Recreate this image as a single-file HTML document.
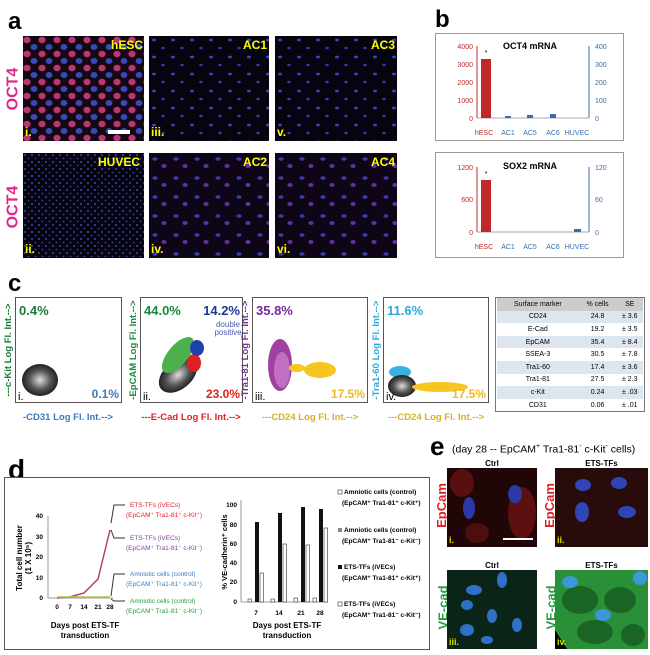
<!DOCTYPE html>
<html><head><meta charset="utf-8"><style>
body{margin:0;width:650px;height:655px;background:#fff;position:relative;overflow:hidden;font-family:"Liberation Sans",sans-serif}
.a{position:absolute}
.L{font-weight:bold;font-size:24px;line-height:24px}
.lab{position:absolute;color:#ff0;font-weight:bold;font-size:12px}
.rot{position:absolute;transform:rotate(-90deg);transform-origin:center;white-space:nowrap;font-weight:bold}
table{border-collapse:collapse;font-size:7px;width:100%}
td,th{text-align:center;height:12.6px;padding:0;font-weight:normal}
tr:nth-child(even) td{background:#dde5ef}
</style></head><body>
<svg width="0" height="0" style="position:absolute"><defs>
<pattern id="pB" width="19" height="17" patternUnits="userSpaceOnUse"><ellipse cx="5" cy="4" rx="2" ry="1.4" fill="#3a44b8"/><ellipse cx="14" cy="12" rx="1.8" ry="1.3" fill="#323ca8"/></pattern>
<pattern id="pH" width="7" height="7" patternUnits="userSpaceOnUse"><circle cx="2" cy="2" r="1" fill="#4048b8"/><circle cx="5.5" cy="5.5" r="0.9" fill="#3840a8"/></pattern>
<pattern id="pE" width="15" height="14" patternUnits="userSpaceOnUse"><ellipse cx="4" cy="4" rx="3.6" ry="3.2" fill="#c03570"/><ellipse cx="11" cy="11" rx="3.4" ry="3" fill="#3a48b8"/></pattern>
<pattern id="pV" width="21" height="19" patternUnits="userSpaceOnUse"><ellipse cx="6" cy="6" rx="2.6" ry="1.8" fill="#3a3cb0"/><ellipse cx="15" cy="13" rx="2.6" ry="2" fill="#6030a0"/></pattern>
</defs></svg>
<div class="a L" style="left:8px;top:10px">a</div>
<div class="rot" style="left:-8px;top:80px;color:#e0288a;font-size:16px">OCT4</div>
<div class="rot" style="left:-8px;top:198px;color:#e0288a;font-size:16px">OCT4</div>
<svg class="a" style="left:23px;top:36px" width="121" height="105"><rect width="121" height="105" fill="#140814"/><rect width="121" height="105" fill="url(#pE)"/><rect x="85" y="94" width="22" height="4" fill="#fff"/></svg>
<svg class="a" style="left:149px;top:36px" width="120" height="105"><rect width="120" height="105" fill="#05040f"/><rect width="120" height="105" fill="url(#pB)"/></svg>
<svg class="a" style="left:275px;top:36px" width="122" height="105"><rect width="122" height="105" fill="#05040f"/><rect width="122" height="105" fill="url(#pB)"/></svg>
<svg class="a" style="left:23px;top:153px" width="121" height="105"><rect width="121" height="105" fill="#05040f"/><rect width="121" height="105" fill="url(#pH)"/></svg>
<svg class="a" style="left:149px;top:153px" width="120" height="105"><rect width="120" height="105" fill="#0e0616"/><rect width="120" height="105" fill="url(#pV)"/></svg>
<svg class="a" style="left:275px;top:153px" width="122" height="105"><rect width="122" height="105" fill="#0e0616"/><rect width="122" height="105" fill="url(#pV)"/></svg>
<div class="lab" style="left:111px;top:38px">hESC</div><div class="lab" style="left:25px;top:125px">i.</div>
<div class="lab" style="left:243px;top:38px">AC1</div><div class="lab" style="left:151px;top:125px">iii.</div>
<div class="lab" style="left:371px;top:38px">AC3</div><div class="lab" style="left:277px;top:125px">v.</div>
<div class="lab" style="left:98px;top:155px">HUVEC</div><div class="lab" style="left:25px;top:242px">ii.</div>
<div class="lab" style="left:243px;top:155px">AC2</div><div class="lab" style="left:151px;top:242px">iv.</div>
<div class="lab" style="left:371px;top:155px">AC4</div><div class="lab" style="left:277px;top:242px">vi.</div>

<div class="a L" style="left:435px;top:8px">b</div>
<svg class="a" style="left:435px;top:33px" width="190" height="226" font-family="Liberation Sans" font-size="7">
<rect x="0.5" y="0.5" width="188" height="107" fill="#fff" stroke="#999"/>
<text x="95" y="16" font-size="9" font-weight="bold" text-anchor="middle">OCT4 mRNA</text>
<line x1="42" y1="13" x2="42" y2="85" stroke="#c0282a"/><line x1="154" y1="13" x2="154" y2="85" stroke="#3a6db0"/>
<line x1="42" y1="85" x2="154" y2="85" stroke="#aaa"/>
<g fill="#c0282a" text-anchor="end"><text x="38" y="16">4000</text><text x="38" y="34">3000</text><text x="38" y="52">2000</text><text x="38" y="70">1000</text><text x="38" y="88">0</text></g>
<g fill="#3a6db0"><text x="160" y="16">400</text><text x="160" y="34">300</text><text x="160" y="52">200</text><text x="160" y="70">100</text><text x="160" y="88">0</text></g>
<rect x="46" y="26" width="10" height="59" fill="#c0282a"/><text x="51" y="22" text-anchor="middle">*</text>
<rect x="70" y="83" width="6" height="2" fill="#3a6db0"/><rect x="92" y="82" width="6" height="3" fill="#3a6db0"/><rect x="115" y="81" width="6" height="4" fill="#3a6db0"/>
<text x="49" y="102" fill="#c0282a" text-anchor="middle">hESC</text><g fill="#3a6db0" text-anchor="middle"><text x="73" y="102">AC1</text><text x="95" y="102">AC5</text><text x="118" y="102">AC6</text><text x="142" y="102">HUVEC</text></g>
<rect x="0.5" y="119.5" width="188" height="105" fill="#fff" stroke="#999"/>
<text x="95" y="136" font-size="9" font-weight="bold" text-anchor="middle">SOX2 mRNA</text>
<line x1="42" y1="134" x2="42" y2="199" stroke="#c0282a"/><line x1="154" y1="134" x2="154" y2="199" stroke="#3a6db0"/>
<line x1="42" y1="199" x2="154" y2="199" stroke="#aaa"/>
<g fill="#c0282a" text-anchor="end"><text x="38" y="137">1200</text><text x="38" y="169">600</text><text x="38" y="202">0</text></g>
<g fill="#3a6db0"><text x="160" y="137">120</text><text x="160" y="169">60</text><text x="160" y="202">0</text></g>
<rect x="46" y="147" width="10" height="52" fill="#c0282a"/><text x="51" y="143" text-anchor="middle">*</text>
<rect x="139" y="196" width="7" height="3" fill="#3a6db0"/>
<text x="49" y="216" fill="#c0282a" text-anchor="middle">hESC</text><g fill="#3a6db0" text-anchor="middle"><text x="73" y="216">AC1</text><text x="95" y="216">AC5</text><text x="118" y="216">AC6</text><text x="142" y="216">HUVEC</text></g>
</svg>

<div class="a L" style="left:8px;top:272px">c</div>
<svg class="a" style="left:0;top:290px" width="495" height="135" font-family="Liberation Sans" font-weight="bold">
<defs><radialGradient id="gg"><stop offset="0" stop-color="#ddd"/><stop offset="0.6" stop-color="#555"/><stop offset="1" stop-color="#222"/></radialGradient></defs>
<rect x="15.5" y="7.5" width="106" height="105" fill="#fff" stroke="#555"/>
<ellipse cx="40" cy="90" rx="18" ry="16" fill="url(#gg)"/>
<text x="19" y="25" fill="#1a7a3a" font-size="13">0.4%</text><text x="119" y="108" fill="#3a7ac0" font-size="12" text-anchor="end">0.1%</text><text x="18" y="110" font-size="11" font-weight="normal">i.</text>
<text x="68" y="130" fill="#3a7ac0" font-size="9.5" text-anchor="middle">-CD31 Log Fl. Int.--&gt;</text>
<text transform="translate(11,60) rotate(-90)" fill="#1a7a3a" font-size="9.5" text-anchor="middle">---c-Kit Log Fl. Int.--&gt;</text>
<rect x="140.5" y="7.5" width="102" height="105" fill="#fff" stroke="#555"/>
<ellipse cx="178" cy="85" rx="22" ry="14" fill="url(#gg)" transform="rotate(-40 178 85)"/>
<ellipse cx="178" cy="65" rx="22" ry="10" fill="#4cb04c" transform="rotate(-50 178 65)"/>
<ellipse cx="194" cy="73" rx="7" ry="9" fill="#e02020"/><ellipse cx="197" cy="58" rx="7" ry="8" fill="#2040b0"/>
<text x="144" y="25" fill="#1a8a3a" font-size="13">44.0%</text><text x="240" y="25" fill="#203890" font-size="13" text-anchor="end">14.2%</text>
<text x="228" y="37" fill="#4a5ab0" font-size="8" font-weight="normal" text-anchor="middle">double</text><text x="228" y="45" fill="#4a5ab0" font-size="8" font-weight="normal" text-anchor="middle">positive</text>
<text x="240" y="108" fill="#e02020" font-size="12" text-anchor="end">23.0%</text><text x="143" y="110" font-size="11" font-weight="normal">ii.</text>
<text x="191" y="130" fill="#e02020" font-size="9.5" text-anchor="middle">---E-Cad Log Fl. Int.--&gt;</text>
<text transform="translate(136,60) rotate(-90)" fill="#1a8a3a" font-size="9.5" text-anchor="middle">-EpCAM Log Fl. Int.--&gt;</text>
<rect x="252.5" y="7.5" width="115" height="105" fill="#fff" stroke="#555"/>
<ellipse cx="280" cy="75" rx="12" ry="26" fill="#a040a0"/><ellipse cx="282" cy="80" rx="8" ry="18" fill="#c070c0"/><ellipse cx="320" cy="80" rx="16" ry="8" fill="#f7c520"/><ellipse cx="297" cy="78" rx="8" ry="4" fill="#f7c520"/>
<text x="256" y="25" fill="#7a2a9a" font-size="13">35.8%</text><text x="365" y="108" fill="#f0b820" font-size="12" text-anchor="end">17.5%</text><text x="255" y="110" font-size="11" font-weight="normal">iii.</text>
<text x="310" y="130" fill="#d8b020" font-size="9.5" text-anchor="middle">---CD24 Log Fl. Int.--&gt;</text>
<text transform="translate(248,60) rotate(-90)" fill="#7a2a9a" font-size="9.5" text-anchor="middle">-Tra1-81 Log Fl. Int.--&gt;</text>
<rect x="383.5" y="7.5" width="105" height="105" fill="#fff" stroke="#555"/>
<ellipse cx="400" cy="82" rx="11" ry="6" fill="#3ab0e0"/><ellipse cx="402" cy="96" rx="14" ry="11" fill="url(#gg)"/><ellipse cx="440" cy="97" rx="28" ry="5" fill="#f7c520"/>
<text x="387" y="25" fill="#2aa8dc" font-size="13">11.6%</text><text x="486" y="108" fill="#f0b820" font-size="12" text-anchor="end">17.5%</text><text x="386" y="110" font-size="11" font-weight="normal">iv.</text>
<text x="436" y="130" fill="#d8b020" font-size="9.5" text-anchor="middle">---CD24 Log Fl. Int.--&gt;</text>
<text transform="translate(379,60) rotate(-90)" fill="#2aa8dc" font-size="9.5" text-anchor="middle">-Tra1-60 Log Fl. Int.--&gt;</text>
</svg>
<div class="a" style="left:495px;top:297px;width:146px;height:113px;border:1px solid #777;padding:0 1px">
<table><tr><th style="background:#ccc">Surface marker</th><th style="background:#ccc">% cells</th><th style="background:#ccc">SE</th></tr>
<tr><td>CD24</td><td>24.8</td><td>± 3.6</td></tr><tr><td>E-Cad</td><td>19.2</td><td>± 3.5</td></tr><tr><td>EpCAM</td><td>35.4</td><td>± 8.4</td></tr><tr><td>SSEA-3</td><td>30.5</td><td>± 7.8</td></tr><tr><td>Tra1-60</td><td>17.4</td><td>± 3.6</td></tr><tr><td>Tra1-81</td><td>27.5</td><td>± 2.3</td></tr><tr><td>c-Kit</td><td>0.24</td><td>± .03</td></tr><tr><td>CD31</td><td>0.06</td><td>± .01</td></tr></table></div>

<div class="a L" style="left:8px;top:458px;font-size:28px">d</div>
<svg class="a" style="left:0;top:470px" width="432" height="182" font-family="Liberation Sans" font-size="6.5" font-weight="bold">
<rect x="4.5" y="7.5" width="425" height="172" fill="#fff" stroke="#555"/>
<line x1="48" y1="46" x2="48" y2="128" stroke="#999"/><line x1="48" y1="128" x2="113" y2="128" stroke="#999"/>
<g text-anchor="end"><text x="43" y="48">40</text><text x="43" y="69">30</text><text x="43" y="89">20</text><text x="43" y="110">10</text><text x="43" y="130">0</text></g>
<g text-anchor="middle"><text x="57" y="139">0</text><text x="70" y="139">7</text><text x="84" y="139">14</text><text x="98" y="139">21</text><text x="110" y="139">28</text></g>
<polyline points="57,128 70,127 84,123 98,109 110,60" fill="none" stroke="#b04070" stroke-width="1.5"/>
<line x1="57" y1="127" x2="110" y2="127" stroke="#b8c040" stroke-width="1.5"/>
<text transform="translate(22,88) rotate(-90)" font-size="8" text-anchor="middle">Total cell number</text><text transform="translate(31,88) rotate(-90)" font-size="8" text-anchor="middle">(1 X 10⁵)</text>
<text x="85" y="158" font-size="8" text-anchor="middle">Days post ETS-TF</text><text x="85" y="168" font-size="8" text-anchor="middle">transduction</text>
<g font-weight="normal" font-size="6.5"><text x="130" y="37" fill="#e02030">ETS-TFs (iVECs)</text><text x="126" y="47" fill="#e02030">(EpCAM⁺ Tra1-81⁺ c-Kit⁺)</text>
<text x="130" y="70" fill="#8040a0">ETS-TFs (iVECs)</text><text x="126" y="80" fill="#8040a0">(EpCAM⁺ Tra1-81⁻ c-Kit⁻)</text>
<text x="130" y="106" fill="#3a7ac0">Amniotic cells (control)</text><text x="126" y="116" fill="#3a7ac0">(EpCAM⁺ Tra1-81⁺ c-Kit⁺)</text>
<text x="130" y="133" fill="#2a9a3a">Amniotic cells (control)</text><text x="126" y="143" fill="#2a9a3a">(EpCAM⁺ Tra1-81⁻ c-Kit⁻)</text></g>
<polyline points="125,35 114,35 111,53" fill="none" stroke="#333"/><polyline points="125,68 114,68 111,60" fill="none" stroke="#333"/>
<polyline points="125,104 114,104 111,126" fill="none" stroke="#333"/><polyline points="125,131 114,131 111,129" fill="none" stroke="#333"/>
<line x1="241" y1="30" x2="241" y2="132" stroke="#999"/><line x1="241" y1="132" x2="328" y2="132" stroke="#999"/>
<g text-anchor="end"><text x="237" y="37">100</text><text x="237" y="57">80</text><text x="237" y="76">60</text><text x="237" y="95">40</text><text x="237" y="114">20</text><text x="237" y="134">0</text></g>
<g fill="#111"><rect x="255" y="52" width="4" height="80"/><rect x="278" y="43" width="4" height="89"/><rect x="301" y="37" width="4" height="95"/><rect x="319" y="39" width="4" height="93"/></g>
<g fill="#fff" stroke="#333" stroke-width="0.6"><rect x="248" y="129" width="3.5" height="3"/><rect x="260" y="103" width="3.5" height="29"/><rect x="271" y="129" width="3.5" height="3"/><rect x="283" y="74" width="3.5" height="58"/><rect x="294" y="128" width="3.5" height="4"/><rect x="306" y="75" width="3.5" height="57"/><rect x="313" y="128" width="3.5" height="4"/><rect x="324" y="58" width="3.5" height="74"/></g>
<g text-anchor="middle"><text x="256" y="145">7</text><text x="279" y="145">14</text><text x="301" y="145">21</text><text x="320" y="145">28</text></g>
<text transform="translate(227,82) rotate(-90)" font-size="7.5" text-anchor="middle">% VE-cadherin⁺ cells</text>
<text x="287" y="158" font-size="8" text-anchor="middle">Days post ETS-TF</text><text x="287" y="168" font-size="8" text-anchor="middle">transduction</text>
<g font-size="6.5"><rect x="338" y="20" width="4" height="4" fill="#fff" stroke="#333" stroke-width=".6"/><text x="344" y="24">Amniotic cells (control)</text><text x="342" y="35">(EpCAM⁺ Tra1-81⁺ c-Kit⁺)</text>
<rect x="338" y="58" width="4" height="4" fill="#888"/><text x="344" y="62">Amniotic cells (control)</text><text x="342" y="73">(EpCAM⁺ Tra1-81⁻ c-Kit⁻)</text>
<rect x="338" y="95" width="4" height="4" fill="#111"/><text x="344" y="99">ETS-TFs (iVECs)</text><text x="342" y="110">(EpCAM⁺ Tra1-81⁺ c-Kit⁺)</text>
<rect x="338" y="132" width="4" height="4" fill="#fff" stroke="#333" stroke-width=".6"/><text x="344" y="136">ETS-TFs (iVECs)</text><text x="342" y="147">(EpCAM⁺ Tra1-81⁻ c-Kit⁻)</text></g>
</svg>

<div class="a L" style="left:430px;top:434px;font-size:26px">e</div>
<div class="a" style="left:452px;top:443px;font-size:10.5px;white-space:nowrap">(day 28 -- EpCAM<sup style="font-size:7px">+</sup> Tra1-81<sup style="font-size:7px">-</sup> c-Kit<sup style="font-size:7px">-</sup> cells)</div>
<div class="a" style="left:447px;top:459px;width:90px;text-align:center;font-size:8px;font-weight:bold">Ctrl</div>
<div class="a" style="left:555px;top:459px;width:93px;text-align:center;font-size:8px;font-weight:bold">ETS-TFs</div>
<div class="a" style="left:447px;top:561px;width:90px;text-align:center;font-size:8px;font-weight:bold">Ctrl</div>
<div class="a" style="left:555px;top:561px;width:93px;text-align:center;font-size:8px;font-weight:bold">ETS-TFs</div>
<div class="rot" style="left:419px;top:498px;color:#e02020;font-size:13px">EpCam</div>
<div class="rot" style="left:527px;top:498px;color:#e02020;font-size:13px">EpCam</div>
<div class="rot" style="left:421px;top:600px;color:#20a040;font-size:13px">VE-cad</div>
<div class="rot" style="left:529px;top:600px;color:#20a040;font-size:13px">VE-cad</div>
<svg class="a" style="left:447px;top:468px" width="90" height="79"><rect width="90" height="79" fill="#200606"/><ellipse cx="15" cy="15" rx="12" ry="14" fill="#701414" opacity=".7"/><ellipse cx="75" cy="45" rx="14" ry="26" fill="#781616" opacity=".7"/><ellipse cx="30" cy="65" rx="12" ry="10" fill="#6a1414" opacity=".6"/><ellipse cx="22" cy="40" rx="6" ry="11" fill="#2a38a8"/><ellipse cx="68" cy="26" rx="7" ry="9" fill="#2a38a8"/><rect x="56" y="70" width="30" height="2" fill="#fff"/></svg>
<svg class="a" style="left:555px;top:468px" width="93" height="79"><rect width="93" height="79" fill="#280c0c"/><ellipse cx="28" cy="17" rx="8" ry="6" fill="#3044b8"/><ellipse cx="64" cy="15" rx="8" ry="6" fill="#3044b8"/><ellipse cx="27" cy="44" rx="7" ry="10" fill="#3044b8"/><ellipse cx="72" cy="44" rx="9" ry="6" fill="#3044b8"/></svg>
<svg class="a" style="left:447px;top:570px" width="90" height="79"><rect width="90" height="79" fill="#0a2418"/><ellipse cx="55" cy="10" rx="5" ry="8" fill="#3070c8"/><ellipse cx="27" cy="20" rx="8" ry="5" fill="#3070c8"/><ellipse cx="20" cy="35" rx="6" ry="5" fill="#3070c8"/><ellipse cx="45" cy="46" rx="5" ry="7" fill="#3070c8"/><ellipse cx="70" cy="55" rx="5" ry="7" fill="#3070c8"/><ellipse cx="20" cy="60" rx="7" ry="6" fill="#3070c8"/><ellipse cx="40" cy="70" rx="6" ry="4" fill="#3070c8"/></svg>
<svg class="a" style="left:555px;top:570px" width="93" height="79"><rect width="93" height="79" fill="#2a9038"/><g fill="#175a22" opacity=".8"><ellipse cx="25" cy="30" rx="18" ry="14"/><ellipse cx="65" cy="30" rx="16" ry="13"/><ellipse cx="40" cy="62" rx="18" ry="12"/><ellipse cx="78" cy="65" rx="12" ry="11"/></g><path d="M0,60 L12,79 L0,79Z" fill="#000"/><ellipse cx="15" cy="12" rx="8" ry="6" fill="#3a98d8"/><ellipse cx="85" cy="8" rx="7" ry="7" fill="#3a98d8"/><ellipse cx="48" cy="45" rx="8" ry="6" fill="#3a98d8"/></svg>
<div class="lab" style="left:449px;top:535px;font-size:9px;color:#dd0">i.</div>
<div class="lab" style="left:557px;top:535px;font-size:9px;color:#dd0">ii.</div>
<div class="lab" style="left:449px;top:637px;font-size:9px;color:#dd0">iii.</div>
<div class="lab" style="left:557px;top:637px;font-size:9px;color:#dd0">iv.</div>
</body></html>
